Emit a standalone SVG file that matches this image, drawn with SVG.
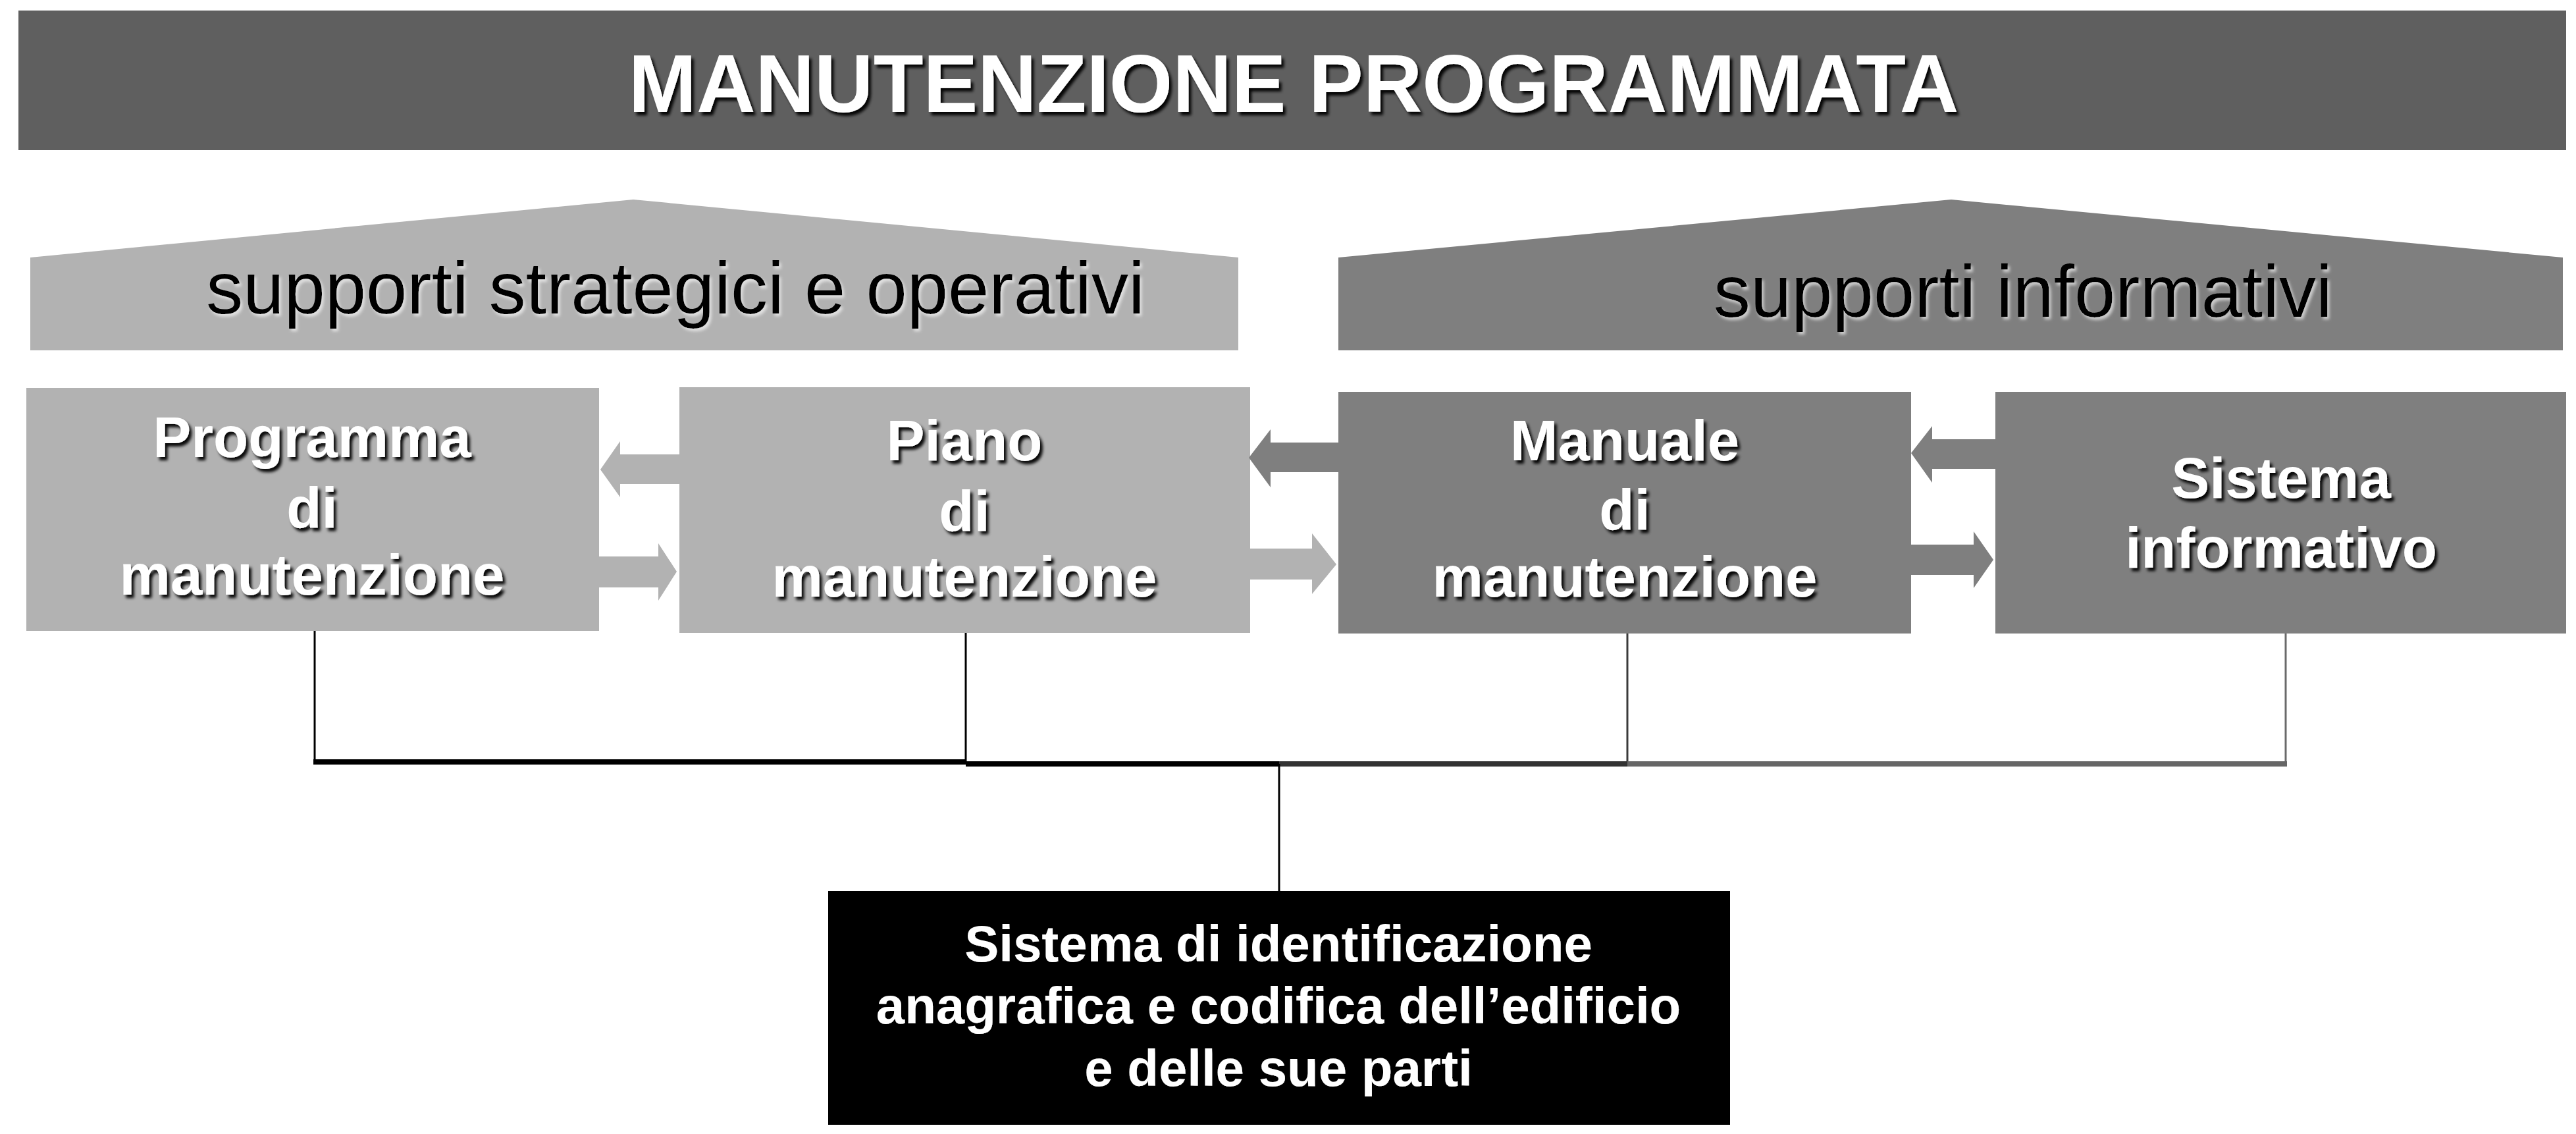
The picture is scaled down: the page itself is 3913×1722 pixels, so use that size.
<svg xmlns="http://www.w3.org/2000/svg" width="3913" height="1722" viewBox="0 0 3913 1722">
<defs>
<filter id="sh" x="-5%" y="-20%" width="110%" height="140%">
<feDropShadow dx="4" dy="5" stdDeviation="2" flood-color="#000" flood-opacity="0.95"/>
</filter>
<filter id="shl" x="-5%" y="-20%" width="110%" height="140%">
<feDropShadow dx="3" dy="4" stdDeviation="2" flood-color="#ffffff" flood-opacity="0.6"/>
</filter>
</defs>
<style>
.light{fill:#b2b2b2}
.dark{fill:#7f7f7f}
.bt{font-family:"Liberation Sans",Arial,sans-serif;font-weight:bold;fill:#fff;text-anchor:middle;filter:url(#sh)}
.bx{font-size:87px}
.hd{font-family:"Liberation Sans",Arial,sans-serif;font-size:112px;fill:#000;text-anchor:middle;filter:url(#shl)}
.v{fill:none;stroke-width:3}
.h{fill:none;stroke-width:8}
</style>
<rect width="3913" height="1722" fill="#fff"/>

<g id="title">
<rect x="28" y="16" width="3870" height="212" fill="#5f5f5f"/>
<text class="bt" x="1965" y="170" font-size="124">MANUTENZIONE PROGRAMMATA</text>
</g>

<g id="supporti-strategici">
<polygon class="light" points="46,391 962,303 1881,391 1881,532 46,532"/>
<text class="hd" x="1026" y="476">supporti strategici e operativi</text>
</g>

<g id="supporti-informativi">
<polygon class="dark" points="2033,391 2964,303 3893,391 3893,532 2033,532"/>
<text class="hd" x="3073" y="481">supporti informativi</text>
</g>

<g id="programma">
<rect class="light" x="40" y="589" width="870" height="369"/>
<text class="bt bx" x="474" y="694">Programma</text>
<text class="bt bx" x="474" y="801">di</text>
<text class="bt bx" x="474" y="903">manutenzione</text>
</g>

<g id="piano">
<rect class="light" x="1032" y="588" width="867" height="373"/>
<text class="bt bx" x="1465" y="699">Piano</text>
<text class="bt bx" x="1465" y="806">di</text>
<text class="bt bx" x="1465" y="906">manutenzione</text>
</g>

<g id="manuale">
<rect class="dark" x="2033" y="595" width="870" height="367"/>
<text class="bt bx" x="2468" y="699">Manuale</text>
<text class="bt bx" x="2468" y="804">di</text>
<text class="bt bx" x="2468" y="906">manutenzione</text>
</g>

<g id="sistema-informativo">
<rect class="dark" x="3031" y="595" width="867" height="367"/>
<text class="bt bx" x="3465" y="756">Sistema</text>
<text class="bt bx" x="3465" y="862">informativo</text>
</g>

<g id="sistema-identificazione">
<rect x="1258" y="1353" width="1370" height="355" fill="#000"/>
<text class="bt" x="1942" y="1460" font-size="78">Sistema di identificazione</text>
<text class="bt" x="1942" y="1554" font-size="78">anagrafica e codifica dell’edificio</text>
<text class="bt" x="1942" y="1649" font-size="78">e delle sue parti</text>
</g>

<g id="connectors">
<polygon class="light" points="1032,690 942,690 942,670 912,713 942,755 942,735 1032,735"/>
<polygon class="light" points="910,845 1000,845 1000,825 1028,868 1000,912 1000,892 910,892"/>
<polygon class="dark" points="2033,672 1930,672 1930,652 1897,695 1930,740 1930,717 2033,717"/>
<polygon class="light" points="1899,833 1993,833 1993,810 2030,857 1993,902 1993,880 1899,880"/>
<polygon class="dark" points="3031,667 2935,667 2935,647 2903,688 2935,733 2935,712 3031,712"/>
<polygon class="dark" points="2903,827 2998,827 2998,807 3028,850 2998,893 2998,873 2903,873"/>

<line class="v" x1="478" y1="958" x2="478" y2="1157" stroke="#000"/>
<line class="v" x1="1467" y1="961" x2="1467" y2="1160" stroke="#000"/>
<line class="v" x1="2472" y1="962" x2="2472" y2="1160" stroke="#3a3a3a"/>
<line class="v" x1="3472" y1="962" x2="3472" y2="1160" stroke="#6a6a6a"/>
<line class="h" x1="476" y1="1157" x2="1467" y2="1157" stroke="#000"/>
<line class="h" x1="1467" y1="1160" x2="1943" y2="1160" stroke="#000"/>
<line class="h" x1="1943" y1="1160" x2="2472" y2="1160" stroke="#333"/>
<line class="h" x1="2472" y1="1160" x2="3474" y2="1160" stroke="#666"/>
<line class="v" x1="1943" y1="1160" x2="1943" y2="1353" stroke="#000"/>
</g>
</svg>
